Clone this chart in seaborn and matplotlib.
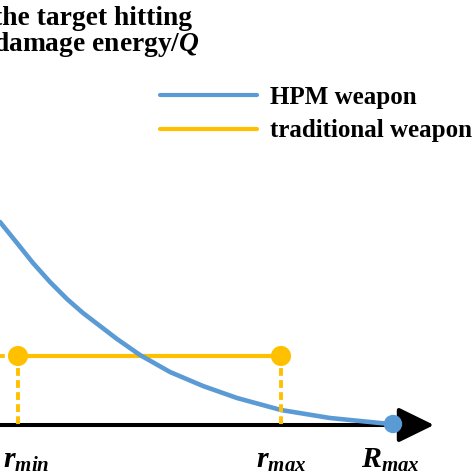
import matplotlib
matplotlib.use('Agg')
import matplotlib.pyplot as plt
import seaborn as sns
import pandas as pd
from matplotlib.lines import Line2D

# ---- data (distance r, damage energy Q) ----
hpm_r = [0, 17, 33, 50, 67, 83, 100, 117, 140, 170, 203, 237, 270, 281, 330, 380, 393]
hpm_q = [203, 182, 162, 143, 126, 112, 99, 86, 70, 53, 39, 27, 18, 15, 7, 2, 1]
trad_r = [18, 281]
trad_q = [69, 69]
hpm_end_r = [393]
hpm_end_q = [1]
series_names = ['HPM weapon', 'traditional weapon']
x_labels = [r'$\mathbf{r}_{min}$', r'$\mathbf{r}_{max}$', r'$\mathbf{R}_{max}$']
y_title = ['the target hitting', r'damage energy/$\mathbf{Q}$']

BLUE = '#5B9BD5'
GOLD = '#FFC000'

sns.set_style('white')
plt.rcParams['font.family'] = ['Liberation Serif', 'DejaVu Serif']
plt.rcParams['font.weight'] = 'bold'
plt.rcParams['text.color'] = 'black'
plt.rcParams['mathtext.fontset'] = 'custom'
plt.rcParams['mathtext.rm'] = 'Liberation Serif:bold'
plt.rcParams['mathtext.it'] = 'Liberation Serif:italic'
plt.rcParams['mathtext.bf'] = 'Liberation Serif:bold:italic'

fig = plt.figure(figsize=(4.74, 4.74), dpi=100)
ax = fig.add_axes([0, 0, 1, 1])
ax.set_xlim(0, 474)
ax.set_ylim(-49, 425)
ax.axis('off')

hpm = pd.DataFrame({'r': hpm_r, 'Q': hpm_q})
trad = pd.DataFrame({'r': trad_r, 'Q': trad_q})

# horizontal axis with arrow
ax.annotate('', xy=(434, 0), xytext=(-10, 0),
            arrowprops=dict(arrowstyle='-|>,head_length=1.47,head_width=0.72',
                            mutation_scale=15, lw=2.9, color='black',
                            shrinkA=0, shrinkB=0), zorder=2)

# traditional weapon: horizontal segment + dashed drops
sns.lineplot(data=trad, x='r', y='Q', color=GOLD, lw=3.0, ax=ax,
             zorder=3, legend=False)
for rv, qv in zip(trad_r, trad_q):
    ax.plot([rv, rv], [qv, 0], color=GOLD, lw=2.8, dashes=(2.0, 1.1),
            dash_capstyle='butt', zorder=5)
ax.plot([-6, trad_r[0]], [trad_q[0], trad_q[0]], color=GOLD, lw=2.8,
        dashes=(1.5, 1.1), dash_capstyle='butt', zorder=3)

# HPM weapon curve
sns.lineplot(data=hpm, x='r', y='Q', color=BLUE, lw=3.3, ax=ax,
             zorder=4, legend=False, solid_joinstyle='round', solid_capstyle='round')

sns.scatterplot(x=trad_r, y=trad_q, color=GOLD, s=210, edgecolor='none',
                ax=ax, zorder=6, legend=False)
sns.scatterplot(x=hpm_end_r, y=hpm_end_q, color=BLUE, s=175, edgecolor='none',
                ax=ax, zorder=6, legend=False)

# legend
handles = [Line2D([], [], color=BLUE, lw=3.0), Line2D([], [], color=GOLD, lw=3.0)]
ax.legend(handles, series_names, frameon=False, loc='upper left',
          bbox_to_anchor=(160 / 474, 1 - 86 / 474), borderpad=0, borderaxespad=0,
          handlelength=3.88, handletextpad=0.52, labelspacing=0.42,
          prop={'family': 'Liberation Serif', 'weight': 'bold', 'size': 18})

# y title (top-left)
ax.text(-7, 400, y_title[0], fontsize=19.8, fontweight='bold', ha='left',
        va='baseline', clip_on=False)
ax.text(-7, 374, y_title[1], fontsize=19.8, fontweight='bold', ha='left',
        va='baseline', clip_on=False)

# x labels
for xl, lab in zip([3, 256, 361], x_labels):
    ax.text(xl, -43, lab, fontsize=21.5, ha='left', va='baseline', clip_on=False)

fig.savefig('out.png', dpi=100)
